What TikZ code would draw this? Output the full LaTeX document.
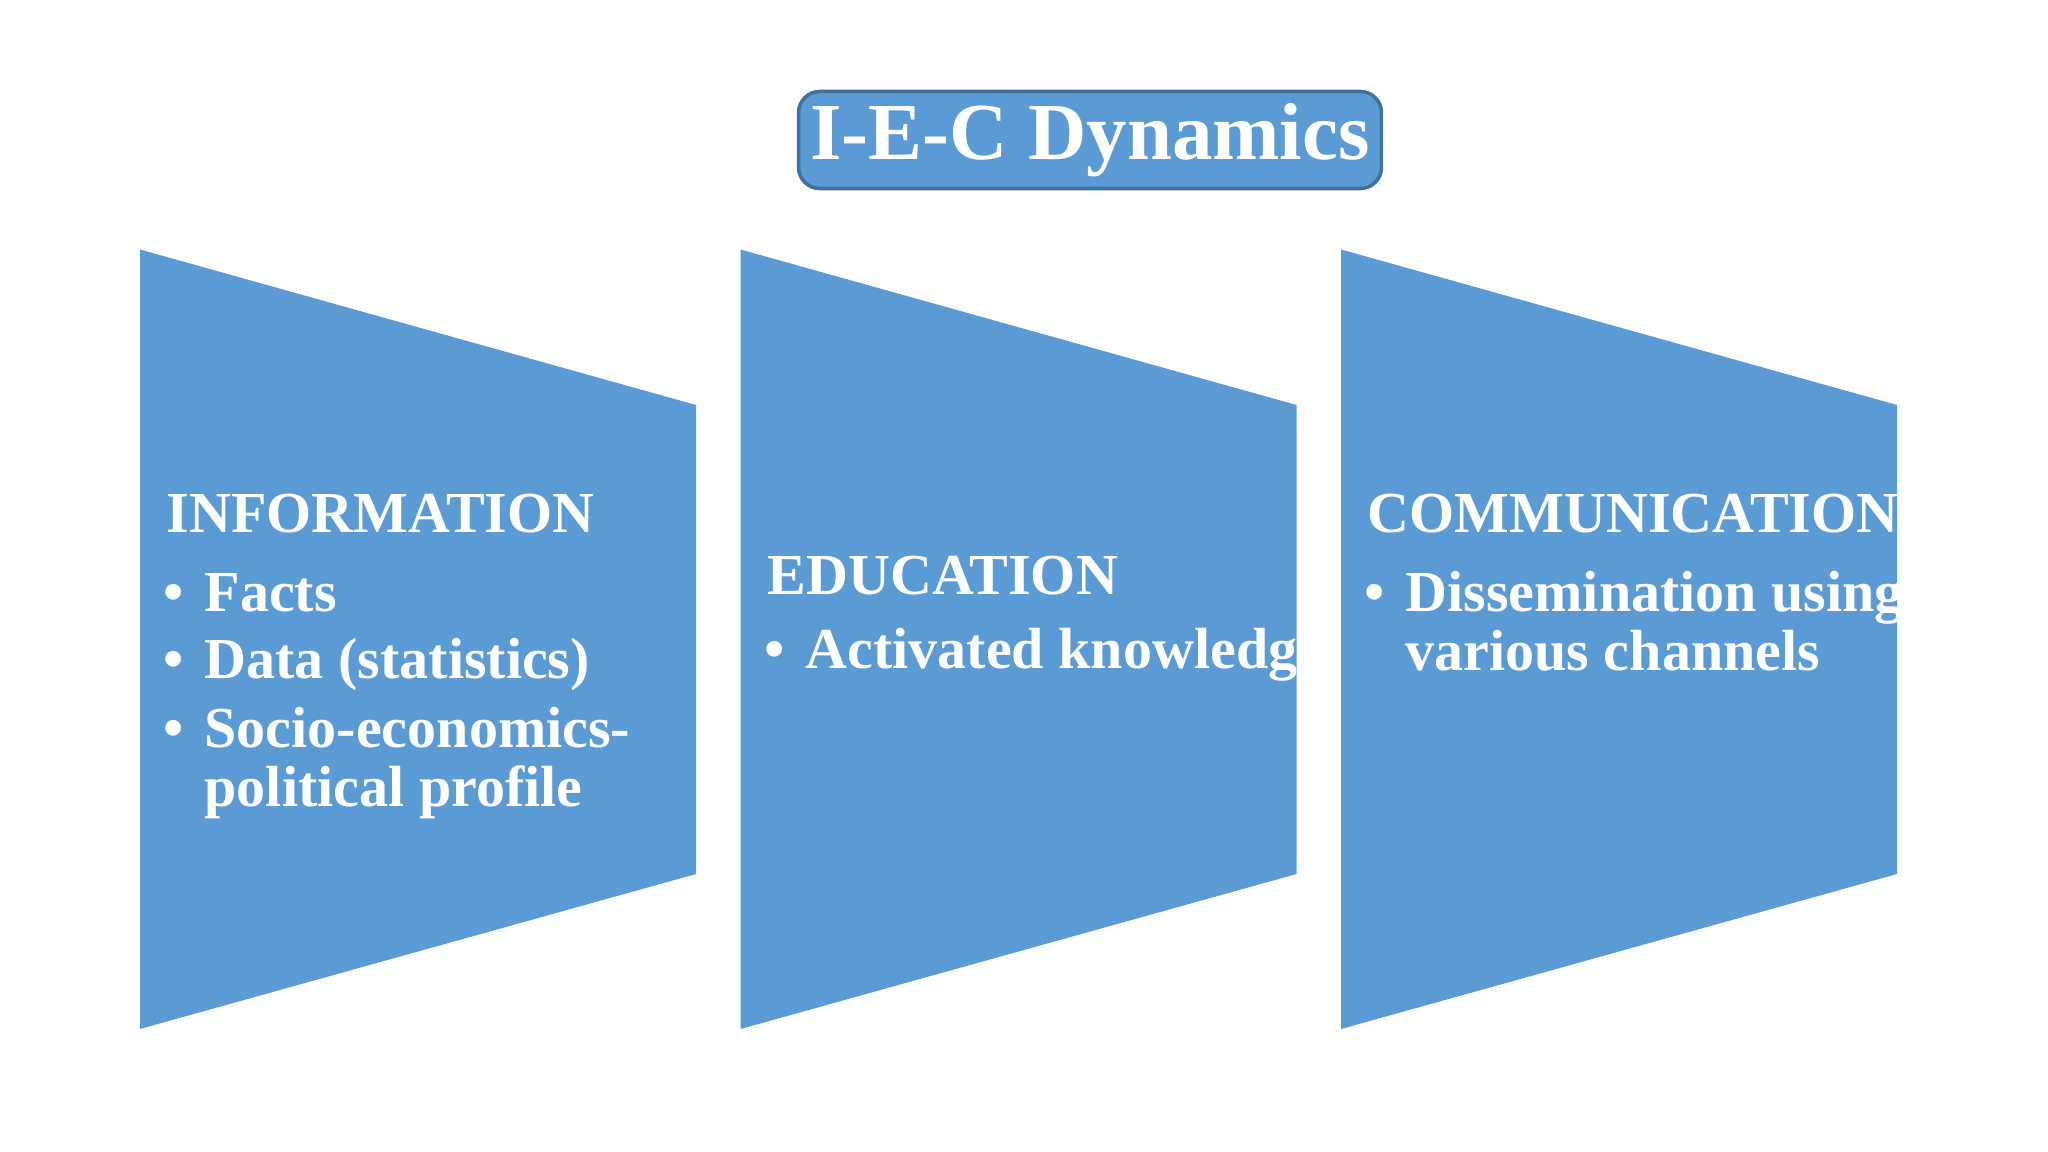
\documentclass[tikz,border=0pt]{standalone}
\usepackage{fontspec}
\setmainfont{Liberation Serif}
\definecolor{panel}{HTML}{5B9BD5}
\definecolor{edge}{HTML}{41719C}
\begin{document}
\begin{tikzpicture}[x=0.01cm,y=-0.01cm,
  panelshape/.style={fill=panel,draw=none},
  head/.style={anchor=base west,text=white,font=\bfseries\fontsize{16.5}{20}\selectfont,inner sep=0},
  itm/.style={anchor=base west,text=white,font=\bfseries\fontsize{16.5}{20}\selectfont,inner sep=0},
  bul/.style={anchor=base west,text=white,font=\bfseries\fontsize{16.5}{20}\selectfont,inner sep=0}]
\useasboundingbox[fill=white] (0,0) rectangle (2048,1152);
\node[draw=edge,line width=1pt,fill=panel,rounded corners=6pt,minimum width=526\pgflinewidth/1pt*0+5.26cm,minimum height=0.91cm,text=white,font=\bfseries\fontsize{23}{28}\selectfont] (title) at (1090,140) {I-E-C Dynamics};
\foreach \n/\x in {p1/140,p2/740.5,p3/1341}{
  \fill[panel] (\x,249.5) -- (\x+556,405) -- (\x+556,874) -- (\x,1029) -- cycle;
}
% INFORMATION
\node[head] (h1) at (166,533) {INFORMATION};
\node[bul] (b1a) at (163,611) {•}; \node[itm] (i1a) at (204,611) {Facts};
\node[bul] (b1b) at (163,679) {•}; \node[itm] (i1b) at (204,679) {Data (statistics)};
\node[bul] (b1c) at (163,747) {•}; \node[itm] (i1c) at (204,747) {Socio-economics-};
\node[itm] (i1d) at (204,806) {political profile};
% EDUCATION
\node[head] (h2) at (767,594) {EDUCATION};
\node[bul] (b2a) at (764,669) {•}; \node[itm] (i2a) at (805,669) {Activated knowledge};
% COMMUNICATION
\node[head] (h3) at (1367,533) {COMMUNICATION};
\node[bul] (b3a) at (1364,611) {•}; \node[itm] (i3a) at (1405,611) {Dissemination using};
\node[itm] (i3b) at (1405,670) {various channels};
\end{tikzpicture}
\end{document}
